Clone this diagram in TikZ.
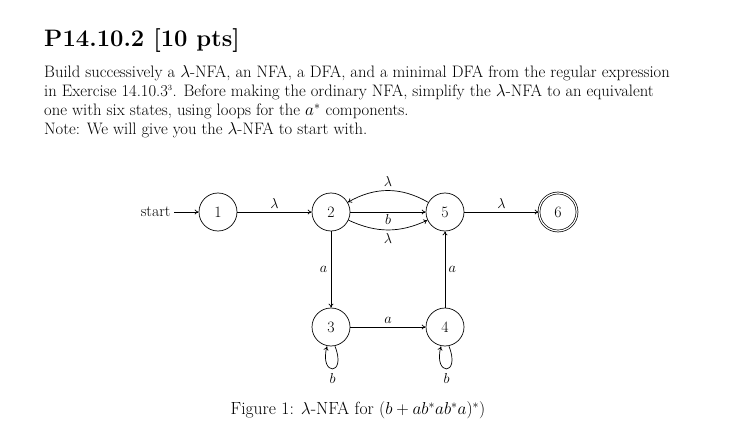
\documentclass[tikz,border=0pt]{standalone}
\usetikzlibrary{arrows.meta,automata}
\begin{document}
\begin{tikzpicture}[x=1pt,y=-1pt,
  st/.style={circle,draw,line width=0.7pt,minimum size=38pt,inner sep=0pt,font=\fontsize{15.8}{19}\selectfont},
  lb/.style={font=\fontsize{15.8}{19}\selectfont},
  tx/.style={anchor=base west,inner sep=0pt,font=\fontsize{16.6}{19}\selectfont},
  ar/.style={-{To[length=4pt,width=5pt]},line width=0.7pt}]
\useasboundingbox (0,0) rectangle (734,441);
\node[anchor=base west,inner sep=0pt,font=\fontsize{23.8}{27}\selectfont\bfseries] (title) at (44,47) {P14.10.2 [10 pts]};
\node[tx] (l1) at (44,78) {Build successively a $\lambda$-NFA, an NFA, a DFA, and a minimal DFA from the regular expression};
\node[tx] (l2) at (44,97) {in Exercise 14.10.3$^{\scriptscriptstyle 3}$. Before making the ordinary NFA, simplify the $\lambda$-NFA to an equivalent};
\node[tx] (l3) at (44,116) {one with six states, using loops for the $a^*$ components.};
\node[tx] (l4) at (44,135) {Note: We will give you the $\lambda$-NFA to start with.};
\node[st] (n1) at (218,212) {1};
\node[st] (n2) at (331,212) {2};
\node[st] (n5) at (445,212) {5};
\node[st,double,double distance=1.2pt] (n6) at (558,212) {6};
\node[st] (n3) at (331,327) {3};
\node[st] (n4) at (445,327) {4};
\node[lb,anchor=east] (s) at (174,212) {start};
\draw[ar] (s) -- (n1);
\draw[ar] (n1) -- node[lb,above] {$\lambda$} (n2);
\draw[ar] (n5) -- node[lb,above] {$\lambda$} (n6);
\draw[ar] (n5) to[bend right=30] node[lb,above] {$\lambda$} (n2);
\draw[ar] (n2) -- node[lb,below,inner sep=2pt] {$b$} (n5);
\draw[ar] (n2) to[bend right=25] node[lb,below] {$\lambda$} (n5);
\draw[ar] (n2) -- node[lb,left] {$a$} (n3);
\draw[ar] (n3) -- node[lb,above] {$a$} (n4);
\draw[ar] (n4) -- node[lb,right] {$a$} (n5);
\draw[ar] (n3.south) ++(4,0) .. controls +(12,30) and +(-8,30) .. node[lb,below,inner sep=4pt] {$b$} ([xshift=-4pt]n3.south);
\draw[ar] (n4.south) ++(4,0) .. controls +(12,30) and +(-8,30) .. node[lb,below,inner sep=4pt] {$b$} ([xshift=-4pt]n4.south);
\node[lb,font=\fontsize{17.6}{20}\selectfont] (cap) at (358,410) {Figure 1: $\lambda$-NFA for $(b+ab^*ab^*a)^*)$};
\end{tikzpicture}
\end{document}
